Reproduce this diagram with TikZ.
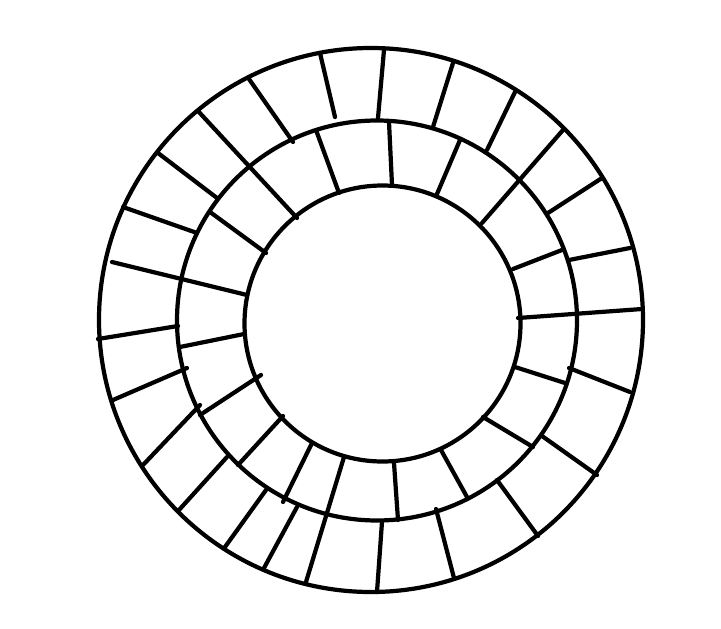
\documentclass[tikz,border=0pt]{standalone}
\begin{document}
\begin{tikzpicture}[x=0.02cm,y=-0.02cm,
ring/.style = {line width=2.4pt},
spoke/.style = {line width=2.4pt,line cap=round}]
\useasboundingbox (0,0) rectangle (721,629);
    \coordinate (Oout) at (371,320);
    \coordinate (Omid) at (377,320.5);
    \coordinate (Oin) at (382.5,323.5);
    \draw[ring] (Oout) circle[radius=272];
    \draw[ring] (Omid) circle[radius=200];
    \draw[ring] (Oin) circle[radius=138];

    % outer ring (some run on to the inner circle)
    \foreach \a/\b in {{320,53}/{335,117}, {249,79}/{293,142}, {198,111}/{297,218},
        {158,153}/{217,198}, {123,207}/{197,233}, {112,262}/{247,295},
        {384,50}/{378,118}, {453,63}/{433,127}, {515,92}/{487,150},
        {563,130}/{482,223}, {602,178}/{548,213}, {630,248}/{569,260},
        {642,309}/{518,318}, {630,392}/{569,368}, {597,475}/{542,436},
        {538,536}/{497,480}, {454,578}/{436,509}, {377,592}/{382,522},
        {98,339}/{178,326}, {113,400}/{187,368}, {143,465}/{200,405},
        {179,510}/{227,457}, {225,547}/{266,490}, {264,568}/{297,507},
        {306,582}/{344,457}}
        \draw[spoke] (\a) -- (\b);

    % inner ring
    \foreach \a/\b in {{316,130}/{339,193}, {210,212}/{266,253}, {389,122}/{392,185},
        {460,140}/{437,194}, {562,250}/{513,269}, {515,367}/{565,383},
        {483,417}/{533,447}, {441,450}/{467,497}, {394,463}/{398,520},
        {180,347}/{244,334}, {200,415}/{261,375}, {238,465}/{283,416},
        {283,502}/{312,443}}
        \draw[spoke] (\a) -- (\b);
\end{tikzpicture}
\end{document}
